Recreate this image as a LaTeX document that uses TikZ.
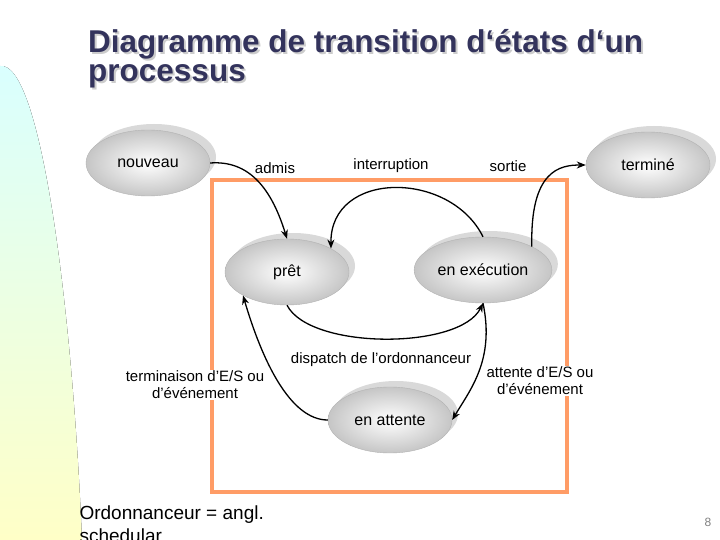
\documentclass[tikz,border=0pt]{standalone}
\usepackage{fontspec}
\setmainfont{Liberation Sans}
\usetikzlibrary{shapes.geometric,arrows.meta,shadows}
\begin{document}
\begin{tikzpicture}[x=1pt,y=-1pt,
  st/.style={ellipse,minimum width=124pt,minimum height=66pt,draw=gray!60,
    inner color=white,outer color=gray!45,font=\fontsize{16}{18}\selectfont,
    drop shadow={shadow xshift=6pt,shadow yshift=6pt,fill=gray!50,opacity=.6}},
  ar/.style={-{Stealth[length=9pt,width=7pt]},line width=1.3pt},
  lb/.style={font=\fontsize{15}{17}\selectfont,align=center,fill=white,inner sep=1pt}]
\useasboundingbox (0,0) rectangle (720,540);
\fill[top color=cyan!15,bottom color=yellow!22] (0,66) .. controls (40,60) and (72,300) .. (82,540) -- (0,540) -- cycle;
\node[anchor=west,font=\fontsize{31.5}{29}\selectfont\bfseries,text=gray!40,align=left,inner sep=0pt] (ts) at (90,61)
  {Diagramme de transition d`états d`un\\processus};
\node[anchor=west,font=\fontsize{31.5}{29}\selectfont\bfseries,text=blue!20!black!80,align=left,inner sep=0pt] (t) at (88,59)
  {Diagramme de transition d`états d`un\\processus};
\draw[draw=orange!70!red!60,line width=4pt] (212,180) rectangle (567,492);
\node[st] (n) at (148,163) {nouveau};
\node[st] (t2) at (648,165) {terminé};
\node[st] (p) at (287,272) {prêt};
\node[st] (e) at (483,270) {en exécution};
\node[st] (a) at (390,420) {en attente};
\draw[ar] (n.east) .. controls (250,160) and (272,190) .. (p.north);
\draw[ar] (e.north) .. controls (450,170) and (330,170) .. (p.north east);
\draw[ar] (p.south) .. controls (310,350) and (460,350) .. (e.south);
\draw[ar] (e.north east) .. controls (530,170) and (560,165) .. (t2.west);
\draw[ar] (e.south) .. controls (495,360) and (470,390) .. (a.east);
\draw[ar] (a.west) .. controls (290,420) and (262,360) .. (p.south west);
\node[lb] (l1) at (275,168) {admis};
\node[lb] (l2) at (391,166) {interruption};
\node[lb] (l3) at (508,166) {sortie};
\node[lb] (l4) at (381,360) {dispatch de l'ordonnanceur};
\node[lb] (l5) at (540,381) {attente d'E/S ou\\d'événement};
\node[lb] (l6) at (195,385) {terminaison d'E/S ou\\d'événement};
\node[anchor=west,font=\fontsize{19}{23}\selectfont,align=left] (o) at (76,524) {Ordonnanceur = angl.\\schedular};
\node[text=gray,font=\fontsize{12}{14}\selectfont] (pg) at (708,522) {8};
\end{tikzpicture}
\end{document}
